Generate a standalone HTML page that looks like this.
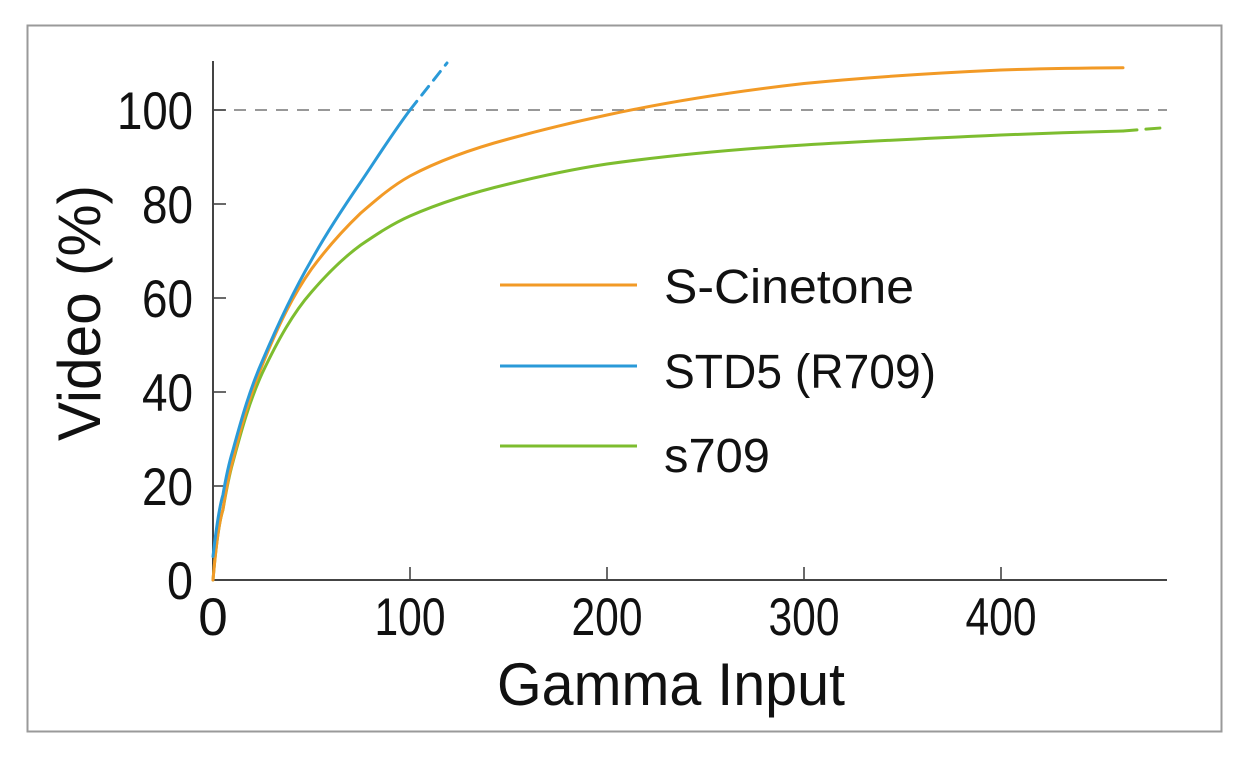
<!DOCTYPE html>
<html><head><meta charset="utf-8"><style>html,body{margin:0;padding:0;background:#fff}svg{display:block}</style></head>
<body>
<svg width="1235" height="767" viewBox="0 0 1235 767" xmlns="http://www.w3.org/2000/svg" font-family="Liberation Sans, sans-serif" fill="#111">
<rect x="27.5" y="25.5" width="1194" height="706" fill="#fff" stroke="#9a9a9a" stroke-width="2"/>
<line x1="213" y1="110" x2="1167" y2="110" stroke="#777" stroke-width="1.6" stroke-dasharray="12,9"/>
<line x1="213" y1="61" x2="213" y2="581" stroke="#444" stroke-width="2"/>
<line x1="212" y1="580" x2="1167" y2="580" stroke="#444" stroke-width="2"/>
<g stroke="#444" stroke-width="1.6">
<line x1="213" y1="486" x2="226" y2="486"/><line x1="213" y1="392" x2="226" y2="392"/>
<line x1="213" y1="298" x2="226" y2="298"/><line x1="213" y1="204" x2="226" y2="204"/>
<line x1="213" y1="110" x2="226" y2="110"/>
<line x1="410" y1="580" x2="410" y2="567"/><line x1="607" y1="580" x2="607" y2="567"/>
<line x1="804" y1="580" x2="804" y2="567"/><line x1="1001" y1="580" x2="1001" y2="567"/>
</g>
<g font-size="53" text-anchor="end">
<text x="193" y="129" textLength="76" lengthAdjust="spacingAndGlyphs">100</text>
<text x="193" y="223" textLength="51" lengthAdjust="spacingAndGlyphs">80</text>
<text x="193" y="317" textLength="51" lengthAdjust="spacingAndGlyphs">60</text>
<text x="193" y="411" textLength="51" lengthAdjust="spacingAndGlyphs">40</text>
<text x="193" y="505" textLength="51" lengthAdjust="spacingAndGlyphs">20</text>
<text x="193" y="599" textLength="26" lengthAdjust="spacingAndGlyphs">0</text>
</g>
<g font-size="53" text-anchor="middle">
<text x="213" y="635">0</text>
<text x="410" y="635" textLength="71" lengthAdjust="spacingAndGlyphs">100</text>
<text x="607" y="635" textLength="71" lengthAdjust="spacingAndGlyphs">200</text>
<text x="804" y="635" textLength="71" lengthAdjust="spacingAndGlyphs">300</text>
<text x="1001" y="635" textLength="71" lengthAdjust="spacingAndGlyphs">400</text>
</g>
<text x="671" y="705" font-size="60" text-anchor="middle" textLength="348" lengthAdjust="spacingAndGlyphs">Gamma Input</text>
<text transform="translate(100,313) rotate(-90)" font-size="60" text-anchor="middle" textLength="256" lengthAdjust="spacingAndGlyphs">Video (%)</text>
<g fill="none" stroke-width="3" stroke-linecap="round" stroke-linejoin="round">
<path stroke="#7dbd2f" d="M213,580 C216,545 219,522 222.9,510 C226,492 229,476 232.7,463 C242,428 250,400 262.3,373 C278,340 293,313 311.5,292 C327,274 343,258 360.8,245 C377,234 392,224 410,216 C442,202 475,192 508.5,184 C541,176 574,169 607,164 C672,155 738,149 804,145 C870,141 935,138 1001,135 C1042,133.5 1082,132 1123,131"/>
<path stroke="#7dbd2f" stroke-dasharray="14,9" d="M1123,131 L1167,127.5"/>
<path stroke="#f29a26" d="M213,580 C216,545 219,522 222.9,509.5 C226,490 229,474 232.7,461 C242,423 250,395 262.3,365 C278,326 293,295 311.5,269 C327,248 343,230 360.8,213 C377,199 392,186 410,176 C442,159 475,148 508.5,139 C541,130 574,122 607,115 C672,101 738,91 804,83.5 C870,77 935,73 1001,70 C1042,68.5 1082,68 1123,67.7"/>
<path stroke="#2a9ad8" d="M213,556.5 C216,530 219,508 222.9,495 C226,477 229,463 232.7,451 C242,417 250,389 262.3,361 C278,324 293,292 311.5,260 C327,232 343,208 360.8,182 C377,158 392,134 410,110"/>
<path stroke="#2a9ad8" stroke-dasharray="11,8" d="M410,110 L447,63"/>
</g>
<g stroke-width="3">
<line x1="500" y1="285" x2="637" y2="285" stroke="#f29a26"/>
<line x1="500" y1="366" x2="637" y2="366" stroke="#2a9ad8"/>
<line x1="500" y1="446" x2="637" y2="446" stroke="#7dbd2f"/>
</g>
<g font-size="48">
<text x="664" y="303" textLength="250" lengthAdjust="spacingAndGlyphs">S-Cinetone</text>
<text x="664" y="388" textLength="272" lengthAdjust="spacingAndGlyphs">STD5 (R709)</text>
<text x="664" y="472" textLength="106" lengthAdjust="spacingAndGlyphs">s709</text>
</g>
</svg>
</body></html>
